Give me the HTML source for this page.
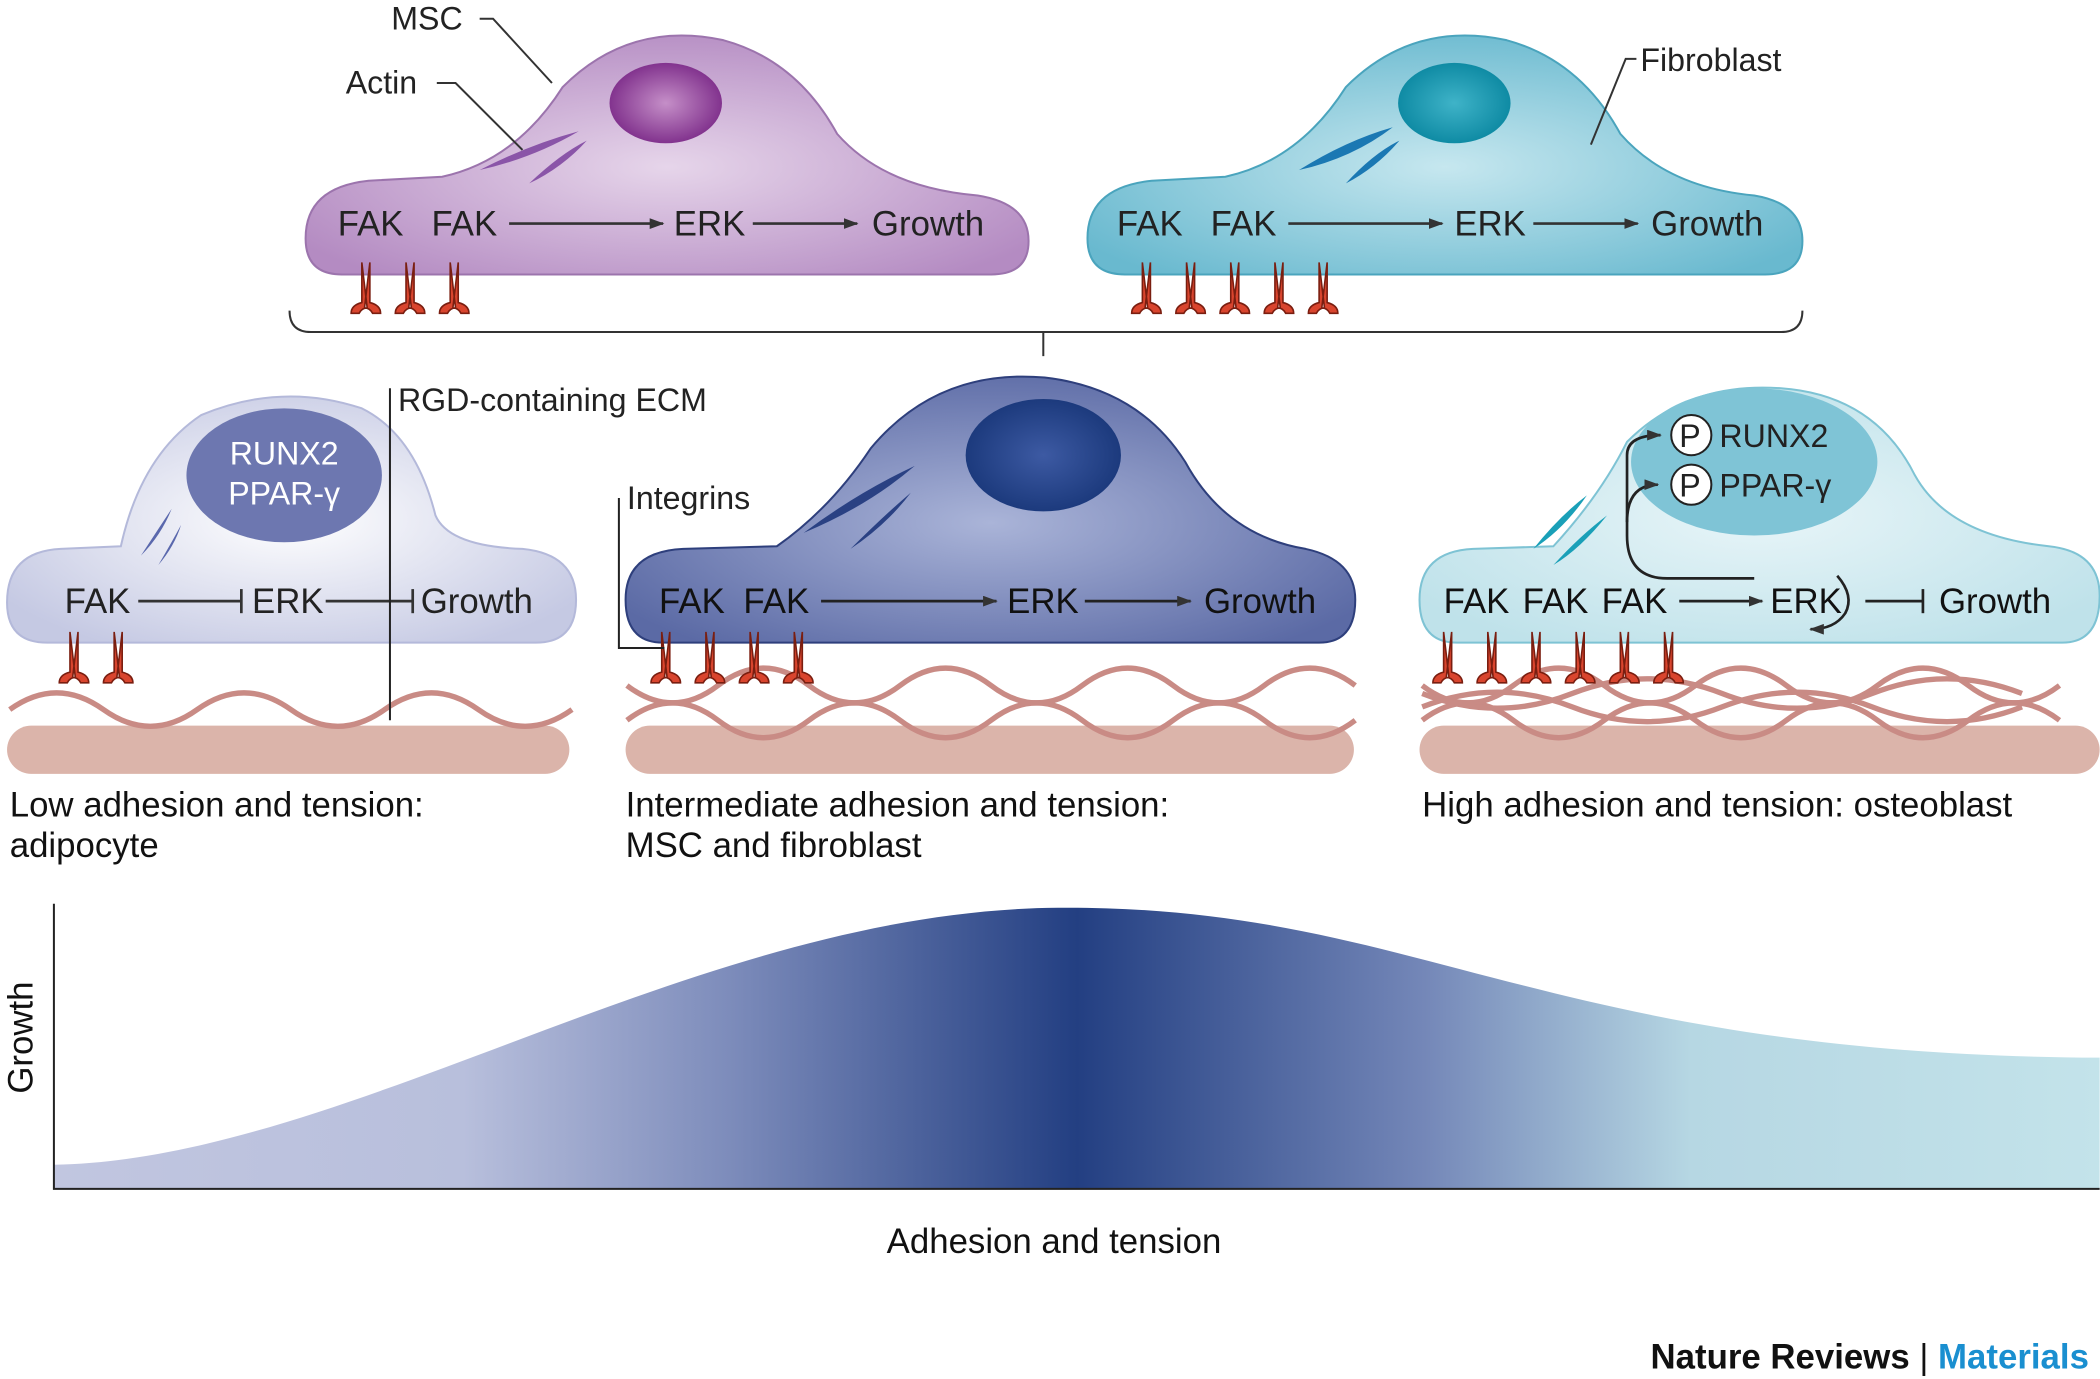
<!DOCTYPE html>
<html><head><meta charset="utf-8"><style>
html,body{margin:0;padding:0;background:#fff;}
svg{display:block;font-family:"Liberation Sans",sans-serif;}
</style></head><body>
<svg width="2100" height="1379" viewBox="0 0 1568 1030" xmlns="http://www.w3.org/2000/svg">
<defs>
<radialGradient id="gMsc" cx="0.5" cy="0.55" r="0.6"><stop offset="0" stop-color="#e6d5ea"/><stop offset="1" stop-color="#b48bc2"/></radialGradient>
<radialGradient id="gFib" cx="0.5" cy="0.55" r="0.6"><stop offset="0" stop-color="#c6e7ef"/><stop offset="1" stop-color="#69b9cf"/></radialGradient>
<radialGradient id="gAd" cx="0.5" cy="0.5" r="0.6"><stop offset="0" stop-color="#ffffff"/><stop offset="1" stop-color="#c5c9e3"/></radialGradient>
<radialGradient id="gMid" cx="0.5" cy="0.55" r="0.6"><stop offset="0" stop-color="#aab4d8"/><stop offset="1" stop-color="#5b6aa5"/></radialGradient>
<radialGradient id="gOst" cx="0.5" cy="0.5" r="0.6"><stop offset="0" stop-color="#e8f5f8"/><stop offset="1" stop-color="#bfe2ea"/></radialGradient>
<radialGradient id="nMsc"><stop offset="0" stop-color="#c58fc8"/><stop offset="1" stop-color="#82338e"/></radialGradient>
<radialGradient id="nFib"><stop offset="0" stop-color="#3fb3c8"/><stop offset="1" stop-color="#0f8ba4"/></radialGradient>
<radialGradient id="nMid"><stop offset="0" stop-color="#3d5aa3"/><stop offset="1" stop-color="#1c3a7d"/></radialGradient>
<linearGradient id="gCurve" x1="0" x2="1" y1="0" y2="0">
<stop offset="0" stop-color="#c1c6e0"/><stop offset="0.2" stop-color="#b8bfdc"/><stop offset="0.33" stop-color="#7d8cbb"/><stop offset="0.5" stop-color="#233f82"/><stop offset="0.67" stop-color="#7487b8"/><stop offset="0.8" stop-color="#b6d7e3"/><stop offset="1" stop-color="#c3e3ea"/></linearGradient>
<marker id="ar" markerUnits="userSpaceOnUse" markerWidth="11" markerHeight="8" refX="10" refY="4" orient="auto"><path d="M0,0 L11,4 L0,8 Z" fill="#333"/></marker>
<g id="integ"><path d="M0 0 v30 q-8 2 -8 8 h6 q2 -4 6 -4 z M6 0 v30 q8 2 8 8 h-6 q-2 -4 -6 -4 z" fill="#d9452e" stroke="#7a1e10" stroke-width="1.2"/></g>
</defs>

<!-- MSC -->
<path d="M228 178 Q228 140 275 135 L330 132 Q385 120 420 65 Q470 15 540 30 Q595 45 625 100 Q660 140 730 146 Q768 152 768 180 Q768 205 740 205 L255 205 Q228 205 228 178Z" fill="url(#gMsc)" stroke="#9c74ad" stroke-width="1.5"/>
<ellipse cx="497" cy="77" rx="42" ry="30" fill="url(#nMsc)"/>
<path d="M358 127 Q395 108 432 98 Q398 118 358 127Z M395 137 Q418 115 438 105 Q420 125 395 137Z" fill="#8a55a8"/>
<g font-size="26" fill="#222">
<text x="252" y="176">FAK</text><text x="322" y="176">FAK</text><text x="503" y="176">ERK</text><text x="651" y="176">Growth</text></g>
<line x1="380" y1="167" x2="495" y2="167" stroke="#333" stroke-width="2" marker-end="url(#ar)"/>
<line x1="562" y1="167" x2="640" y2="167" stroke="#333" stroke-width="2" marker-end="url(#ar)"/>
<use href="#integ" x="270" y="196"/><use href="#integ" x="303" y="196"/><use href="#integ" x="336" y="196"/>
<text x="292" y="22" font-size="24" fill="#222">MSC</text>
<path d="M358 14 H368 L412 62" fill="none" stroke="#333" stroke-width="1.5"/>
<text x="258" y="70" font-size="24" fill="#222">Actin</text>
<path d="M326 62 H340 L390 112" fill="none" stroke="#333" stroke-width="1.5"/>

<!-- Fibroblast -->
<path d="M812 178 Q812 140 860 135 L915 132 Q970 120 1005 65 Q1055 15 1125 30 Q1180 45 1210 100 Q1245 140 1310 146 Q1346 152 1346 180 Q1346 205 1318 205 L840 205 Q812 205 812 178Z" fill="url(#gFib)" stroke="#4aa4bd" stroke-width="1.5"/>
<ellipse cx="1086" cy="77" rx="42" ry="30" fill="url(#nFib)"/>
<path d="M970 127 Q1005 105 1040 95 Q1010 118 970 127Z M1005 137 Q1025 115 1045 105 Q1028 125 1005 137Z" fill="#1b78b3"/>
<g font-size="26" fill="#222">
<text x="834" y="176">FAK</text><text x="904" y="176">FAK</text><text x="1086" y="176">ERK</text><text x="1233" y="176">Growth</text></g>
<line x1="962" y1="167" x2="1077" y2="167" stroke="#333" stroke-width="2" marker-end="url(#ar)"/>
<line x1="1145" y1="167" x2="1223" y2="167" stroke="#333" stroke-width="2" marker-end="url(#ar)"/>
<use href="#integ" x="853" y="196"/><use href="#integ" x="886" y="196"/><use href="#integ" x="919" y="196"/><use href="#integ" x="952" y="196"/><use href="#integ" x="985" y="196"/>
<text x="1225" y="53" font-size="24" fill="#222">Fibroblast</text>
<path d="M1222 44 H1214 L1188 108" fill="none" stroke="#333" stroke-width="1.5"/>

<!-- bracket -->
<path d="M216 232 Q216 248 232 248 L1330 248 Q1346 248 1346 232" fill="none" stroke="#333" stroke-width="1.5"/>
<line x1="779" y1="248" x2="779" y2="266" stroke="#333" stroke-width="1.5"/>

<!-- ECM + substrate -->
<g fill="#dbb4aa">
<rect x="5" y="542" width="420" height="36" rx="18"/>
<rect x="467" y="542" width="544" height="36" rx="18"/>
<rect x="1060" y="542" width="508" height="36" rx="18"/></g>
<g fill="none" stroke="#c98b85" stroke-width="4">
<path d="M7 530 q35 -25 70 0 t70 0 t70 0 t70 0 t70 0 t70 0"/>
<path d="M468 512 q34 26 68 0 t68 0 t68 0 t68 0 t68 0 t68 0 t68 0 t68 0"/>
<path d="M468 538 q34 -26 68 0 t68 0 t68 0 t68 0 t68 0 t68 0 t68 0 t68 0"/>
<path d="M1062 512 q34 26 68 0 t68 0 t68 0 t68 0 t68 0 t68 0 t68 0"/>
<path d="M1062 538 q34 -26 68 0 t68 0 t68 0 t68 0 t68 0 t68 0 t68 0"/>
<path d="M1062 528 q56 -22 112 0 t112 0 t112 0 t112 0"/>
<path d="M1062 518 q56 22 112 0 t112 0 t112 0 t112 0"/></g>

<!-- adipocyte -->
<path d="M5 450 Q5 412 45 410 L90 408 Q105 340 150 310 Q210 285 270 305 Q310 325 325 385 Q335 408 390 410 Q430 414 430 448 Q430 480 400 480 L35 480 Q5 480 5 450Z" fill="url(#gAd)" stroke="#b4b9da" stroke-width="1.5"/>
<ellipse cx="212" cy="355" rx="73" ry="50" fill="#6d77b0"/>
<text x="212" y="347" font-size="24" fill="#fff" text-anchor="middle">RUNX2</text>
<text x="212" y="377" font-size="24" fill="#fff" text-anchor="middle">PPAR-γ</text>
<path d="M105 415 Q118 395 128 380 Q120 400 105 415Z M118 422 Q128 405 135 392 Q130 408 118 422Z" fill="#5a68ad"/>
<g font-size="26" fill="#222"><text x="48" y="458">FAK</text><text x="188" y="458">ERK</text><text x="314" y="458">Growth</text></g>
<line x1="103" y1="449" x2="180" y2="449" stroke="#333" stroke-width="2"/><line x1="180" y1="440" x2="180" y2="458" stroke="#333" stroke-width="2"/>
<line x1="243" y1="449" x2="308" y2="449" stroke="#333" stroke-width="2"/><line x1="308" y1="440" x2="308" y2="458" stroke="#333" stroke-width="2"/>
<use href="#integ" x="52" y="472"/><use href="#integ" x="85" y="472"/>
<line x1="291" y1="290" x2="291" y2="538" stroke="#222" stroke-width="1.5"/>
<text x="297" y="307" font-size="24" fill="#222">RGD-containing ECM</text>

<!-- intermediate -->
<path d="M467 448 Q467 412 510 410 L580 408 Q620 380 650 335 Q700 275 780 282 Q850 290 885 345 Q915 400 975 410 Q1012 418 1012 448 Q1012 480 985 480 L495 480 Q467 480 467 448Z" fill="url(#gMid)" stroke="#2e3f7c" stroke-width="1.5"/>
<ellipse cx="779" cy="340" rx="58" ry="42" fill="url(#nMid)"/>
<path d="M600 398 Q640 368 683 348 Q648 378 600 398Z M635 410 Q660 385 680 368 Q662 392 635 410Z" fill="#2a4183"/>
<g font-size="26" fill="#111"><text x="492" y="458">FAK</text><text x="555" y="458">FAK</text><text x="752" y="458">ERK</text><text x="899" y="458">Growth</text></g>
<line x1="613" y1="449" x2="744" y2="449" stroke="#222" stroke-width="2" marker-end="url(#ar)"/>
<line x1="810" y1="449" x2="889" y2="449" stroke="#222" stroke-width="2" marker-end="url(#ar)"/>
<use href="#integ" x="494" y="472"/><use href="#integ" x="527" y="472"/><use href="#integ" x="560" y="472"/><use href="#integ" x="593" y="472"/>
<text x="468" y="380" font-size="24" fill="#222">Integrins</text>
<path d="M462 372 V484 H496" fill="none" stroke="#222" stroke-width="1.5"/>

<!-- osteoblast -->
<path d="M1060 448 Q1060 412 1100 410 L1160 408 Q1195 370 1215 330 Q1260 285 1330 290 Q1400 295 1430 355 Q1455 400 1530 408 Q1568 412 1568 445 Q1568 480 1540 480 L1088 480 Q1060 480 1060 448Z" fill="url(#gOst)" stroke="#7ec3d4" stroke-width="1.5"/>
<ellipse cx="1310" cy="345" rx="92" ry="55" fill="#7fc4d6"/>
<path d="M1145 410 Q1165 385 1185 370 Q1168 395 1145 410Z M1160 422 Q1180 400 1200 385 Q1180 410 1160 422Z" fill="#1aa0b8"/>
<g fill="#fff" stroke="#222" stroke-width="1.5"><circle cx="1263" cy="325" r="15"/><circle cx="1263" cy="362" r="15"/></g>
<g font-size="24" fill="#222"><text x="1254" y="334">P</text><text x="1254" y="371">P</text>
<text x="1284" y="334">RUNX2</text><text x="1284" y="371">PPAR-γ</text></g>
<g font-size="26" fill="#111"><text x="1078" y="458">FAK</text><text x="1137" y="458">FAK</text><text x="1196" y="458">FAK</text><text x="1322" y="458">ERK</text><text x="1448" y="458">Growth</text></g>
<line x1="1254" y1="449" x2="1316" y2="449" stroke="#222" stroke-width="2" marker-end="url(#ar)"/>
<line x1="1393" y1="449" x2="1436" y2="449" stroke="#222" stroke-width="2"/><line x1="1436" y1="440" x2="1436" y2="458" stroke="#222" stroke-width="2"/>
<path d="M1310 432 H1245 Q1215 432 1215 400 V340 Q1215 325 1240 325" fill="none" stroke="#222" stroke-width="2" marker-end="url(#ar)"/>
<path d="M1215 390 Q1215 362 1238 362" fill="none" stroke="#222" stroke-width="2" marker-end="url(#ar)"/>
<path d="M1372 430 Q1385 445 1378 458 Q1370 470 1352 470" fill="none" stroke="#222" stroke-width="2" marker-end="url(#ar)"/>
<use href="#integ" x="1078" y="472"/><use href="#integ" x="1111" y="472"/><use href="#integ" x="1144" y="472"/><use href="#integ" x="1177" y="472"/><use href="#integ" x="1210" y="472"/><use href="#integ" x="1243" y="472"/>

<!-- captions -->
<g font-size="26" fill="#111">
<text x="7" y="610">Low adhesion and tension:</text><text x="7" y="640">adipocyte</text>
<text x="467" y="610">Intermediate adhesion and tension:</text><text x="467" y="640">MSC and fibroblast</text>
<text x="1062" y="610">High adhesion and tension: osteoblast</text></g>

<!-- graph -->
<path d="M40 870 C 260 866, 520 680, 790 678 C 1060 676, 1150 788, 1568 790 L1568 888 L40 888Z" fill="url(#gCurve)"/>
<path d="M40 675 V888 H1568" fill="none" stroke="#222" stroke-width="1.5"/>
<text transform="translate(24 775) rotate(-90)" font-size="26" fill="#111" text-anchor="middle">Growth</text>
<text x="787" y="936" font-size="26" fill="#111" text-anchor="middle">Adhesion and tension</text>
<text x="1560" y="1022" font-size="26" font-weight="bold" text-anchor="end" fill="#111">Nature Reviews <tspan font-weight="normal">|</tspan> <tspan fill="#1a8fd0">Materials</tspan></text>
</svg>
</body></html>
